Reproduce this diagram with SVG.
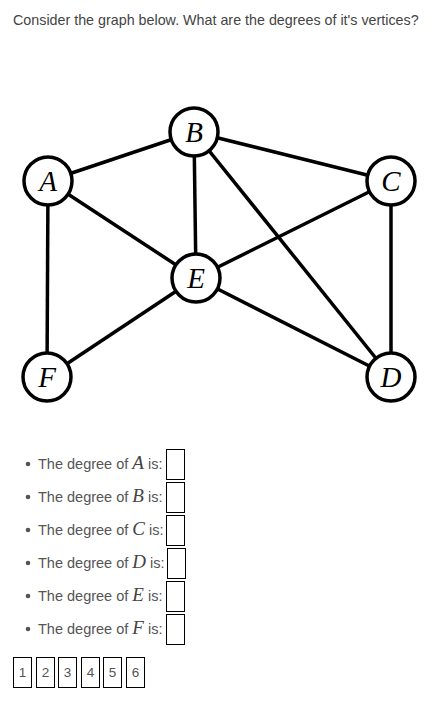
<svg xmlns="http://www.w3.org/2000/svg" width="446" height="715" viewBox="0 0 446 715">
<style>
.t{font-family:"Liberation Sans",Arial,sans-serif;fill:#444;font-size:14.3px}
.li{font-family:"Liberation Sans",Arial,sans-serif;fill:#555;font-size:14.5px}
.m{font-family:"Liberation Serif","Times New Roman",serif;font-style:italic;font-size:19px;fill:#444}
.node circle{fill:#fff;stroke:#000;stroke-width:3.5}
.node text{font-family:"Liberation Serif","Times New Roman",serif;font-style:italic;font-size:29px;fill:#000;text-anchor:middle}
.edges line{stroke:#000;stroke-width:3.5}
.box{fill:#fff;stroke:#000;stroke-width:1}
.num{font-family:"Liberation Sans",Arial,sans-serif;fill:#555;font-size:13.5px;text-anchor:middle}
</style>
<rect width="446" height="715" fill="#fff"/>
<text class="t" x="13" y="25">Consider the graph below. What are the degrees of it's vertices?</text>
<g class="edges">
<line x1="48" y1="181" x2="194" y2="132"/>
<line x1="48" y1="181" x2="196" y2="278"/>
<line x1="48" y1="181" x2="47" y2="377"/>
<line x1="194" y1="132" x2="196" y2="278"/>
<line x1="194" y1="132" x2="391" y2="181"/>
<line x1="194" y1="132" x2="391" y2="377"/>
<line x1="391" y1="181" x2="196" y2="278"/>
<line x1="391" y1="181" x2="391" y2="377"/>
<line x1="196" y1="278" x2="47" y2="377"/>
<line x1="196" y1="278" x2="391" y2="377"/>
</g>
<g id="A" class="node"><circle cx="48" cy="181" r="24"/><text x="48" y="191">A</text></g>
<g id="B" class="node"><circle cx="194" cy="132" r="24"/><text x="194" y="142">B</text></g>
<g id="C" class="node"><circle cx="391" cy="181" r="24"/><text x="391" y="191">C</text></g>
<g id="E" class="node"><circle cx="196" cy="278" r="24"/><text x="196" y="288">E</text></g>
<g id="F" class="node"><circle cx="47" cy="377" r="24"/><text x="47" y="387">F</text></g>
<g id="D" class="node"><circle cx="391" cy="377" r="24"/><text x="391" y="387">D</text></g>
<g id="list">
<circle cx="28" cy="464" r="2.3" fill="#555"/><text class="li" x="38" y="469">The degree of <tspan class="m">A</tspan> is:</text><rect class="box" x="166.5" y="449.5" width="18" height="30"/>
<circle cx="28" cy="497" r="2.3" fill="#555"/><text class="li" x="38" y="502">The degree of <tspan class="m">B</tspan> is:</text><rect class="box" x="166.5" y="482.5" width="18" height="30"/>
<circle cx="28" cy="530" r="2.3" fill="#555"/><text class="li" x="38" y="535">The degree of <tspan class="m">C</tspan> is:</text><rect class="box" x="166.5" y="515.5" width="18" height="30"/>
<circle cx="28" cy="563" r="2.3" fill="#555"/><text class="li" x="38" y="568">The degree of <tspan class="m">D</tspan> is:</text><rect class="box" x="167.5" y="548.5" width="18" height="30"/>
<circle cx="28" cy="596" r="2.3" fill="#555"/><text class="li" x="38" y="601">The degree of <tspan class="m">E</tspan> is:</text><rect class="box" x="166.5" y="581.5" width="18" height="30"/>
<circle cx="28" cy="629" r="2.3" fill="#555"/><text class="li" x="38" y="634">The degree of <tspan class="m">F</tspan> is:</text><rect class="box" x="166.5" y="614.5" width="18" height="30"/>
</g>
<g id="choices">
<rect class="box" x="13.5" y="657.5" width="18" height="30"/><text class="num" x="22.5" y="677">1</text>
<rect class="box" x="36.5" y="657.5" width="18" height="30"/><text class="num" x="45.5" y="677">2</text>
<rect class="box" x="58.5" y="657.5" width="18" height="30"/><text class="num" x="67.5" y="677">3</text>
<rect class="box" x="81.5" y="657.5" width="18" height="30"/><text class="num" x="90.5" y="677">4</text>
<rect class="box" x="103.5" y="657.5" width="18" height="30"/><text class="num" x="112.5" y="677">5</text>
<rect class="box" x="126.5" y="657.5" width="18" height="30"/><text class="num" x="135.5" y="677">6</text>
</g>
</svg>
